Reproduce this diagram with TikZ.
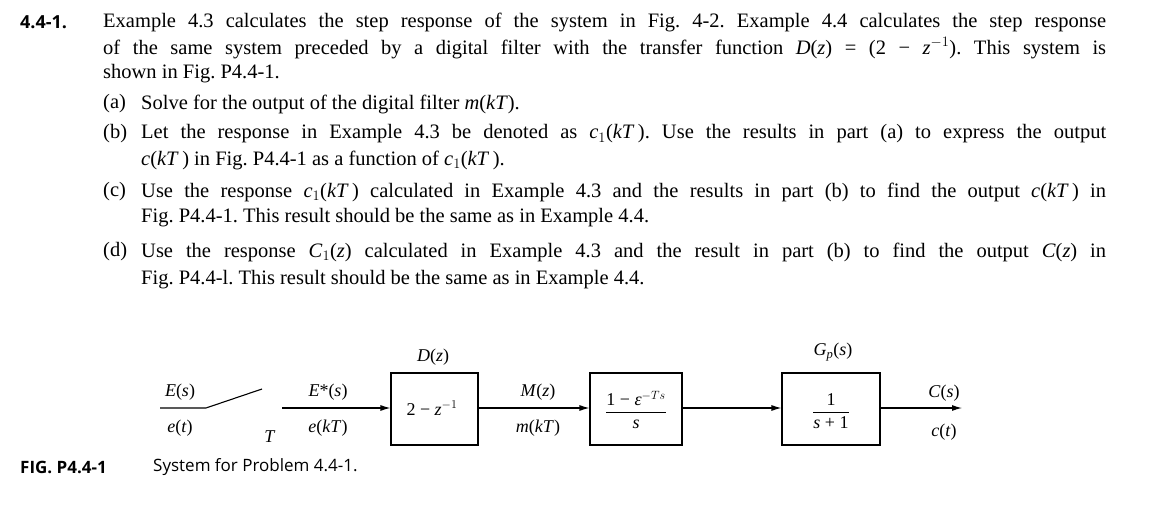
\documentclass[tikz,border=0pt]{standalone}
\usepackage{amsmath}
\usepackage{fontspec}
\setmainfont{Liberation Serif}
\newfontfamily\capfont{Open Sans}
\usetikzlibrary{arrows.meta}
\tikzset{
  txt/.style={anchor=west,inner sep=0pt,font=\fontsize{20.5}{24}\selectfont},
  lbl/.style={inner sep=0pt,font=\fontsize{18}{20}\selectfont},
  blk/.style={draw,line width=1.1pt,inner sep=0pt},
  sig/.style={line width=1.1pt,-{Latex[length=10pt,width=6pt]}},
  wire/.style={line width=1.1pt}
}
\newcommand{\jl}[1]{\makebox[965pt][s]{#1}}
\newcommand{\ti}[1]{\textit{#1}}
\newcommand{\fr}[2]{$\dfrac{\text{#1}}{\text{#2}}$}
\frenchspacing
\begin{document}
\begin{tikzpicture}[x=1pt,y=-1pt]
\useasboundingbox (0,0) rectangle (1170,513);
% text
\node[txt,font=\capfont\bfseries\fontsize{18}{20}\selectfont] (n0) at (20,22) {4.4-1.};
\node[txt] (l1) at (103,22) {\makebox[1003pt][s]{Example 4.3 calculates the step response of the system in Fig. 4-2. Example 4.4 calculates the step response}};
\node[txt] (l2) at (103,48) {\makebox[1003pt][s]{of the same system preceded by a digital filter with the transfer function \ti{D}(\ti{z}) = (2 − \ti{z}$^{-1}$). This system is}};
\node[txt] (l3) at (103,74) {shown in Fig. P4.4-1.};
\node[txt] (a) at (103,104) {(a)};
\node[txt] (l4) at (141,104) {Solve for the output of the digital filter \ti{m}(\ti{kT}).};
\node[txt] (b) at (103,134) {(b)};
\node[txt] (l5) at (141,134) {\jl{Let the response in Example 4.3 be denoted as \ti{c}$_1$(\ti{kT}\,). Use the results in part (a) to express the output}};
\node[txt] (l6) at (141,160) {\ti{c}(\ti{kT}\,) in Fig. P4.4-1 as a function of \ti{c}$_1$(\ti{kT}\,).};
\node[txt] (c) at (103,192) {(c)};
\node[txt] (l7) at (141,192) {\jl{Use the response \ti{c}$_1$(\ti{kT}\,) calculated in Example 4.3 and the results in part (b) to find the output \ti{c}(\ti{kT}\,) in}};
\node[txt] (l8) at (141,218) {Fig. P4.4-1. This result should be the same as in Example 4.4.};
\node[txt] (d) at (103,252) {(d)};
\node[txt] (l9) at (141,252) {\jl{Use the response \ti{C}$_1$(\ti{z}) calculated in Example 4.3 and the result in part (b) to find the output \ti{C}(\ti{z}) in}};
\node[txt] (l10) at (141,280) {Fig. P4.4-l. This result should be the same as in Example 4.4.};
% diagram
\coordinate (in) at (160,408);
\coordinate (sw1) at (206,408);
\coordinate (sw2) at (262,389);
\coordinate (sw3) at (282,408);
\node[blk,minimum width=87pt,minimum height=72pt] (D) at (434.5,409) {};
\node[lbl] (Dt) at (432,408) {2 − \ti{z}$^{-1}$};
\node[blk,minimum width=92pt,minimum height=72pt] (H) at (636,409) {};
\node[lbl] (Ht) at (636,410) {\fr{1 − \ti{ε}$^{-Ts}$}{\ti{s}}};
\node[blk,minimum width=98pt,minimum height=72pt] (G) at (831,409) {};
\node[lbl] (Gt) at (831,411) {\fr{1}{\ti{s} + 1}};
\coordinate (out) at (962,408);
\draw[wire] (in) -- (sw1) -- (sw2);
\draw[sig] (sw3) -- (D.west |- sw3);
\draw[sig] (D.east |- sw3) -- (H.west |- sw3);
\draw[sig] (H.east |- sw3) -- (G.west |- sw3);
\draw[sig] (G.east |- sw3) -- (out);
\node[lbl] (Es) at (180,392) {\ti{E}(\ti{s})};
\node[lbl] (et) at (180,428) {\ti{e}(\ti{t})};
\node[lbl] (T) at (270,437) {\ti{T}};
\node[lbl] (Esp) at (328,392) {\ti{E}*(\ti{s})};
\node[lbl] (ekt) at (328,428) {\ti{e}(\ti{kT})};
\node[lbl] (Dz) at (433,357) {\ti{D}(\ti{z})};
\node[lbl] (Mz) at (538,392) {\ti{M}(\ti{z})};
\node[lbl] (mkt) at (538,428) {\ti{m}(\ti{kT})};
\node[lbl] (Gp) at (833,352) {\ti{G}$_{\text{\ti{p}}}$(\ti{s})};
\node[lbl] (Cs) at (944,393) {\ti{C}(\ti{s})};
\node[lbl] (ct) at (944,432) {\ti{c}(\ti{t})};
\node[txt,font=\capfont\fontsize{17}{20}\selectfont] (cap1) at (20,467) {\textbf{FIG. P4.4-1}};
\node[txt,font=\capfont\fontsize{17}{20}\selectfont] (cap2) at (153,467) {System for Problem 4.4-1.};
\end{tikzpicture}
\end{document}
